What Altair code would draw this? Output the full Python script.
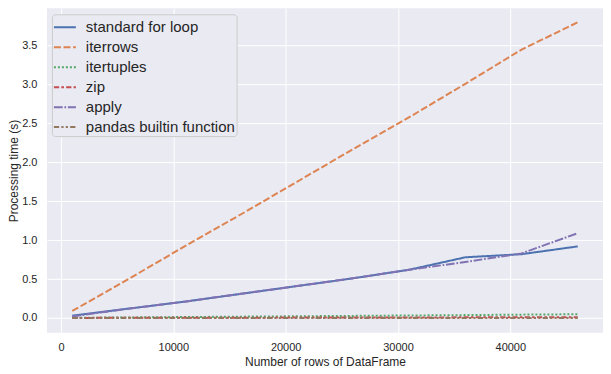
import altair as alt
import pandas as pd

rows = [1000, 6000, 11000, 16000, 21000, 26000, 31000, 36000, 41000, 46000]
series_names = ["standard for loop", "iterrows", "itertuples", "zip", "apply",
                "pandas builtin function"]
standard_for_loop = [0.03, 0.12, 0.21, 0.31, 0.41, 0.51, 0.62, 0.78, 0.82, 0.92]
iterrows = [0.09, 0.50, 0.92, 1.33, 1.75, 2.17, 2.58, 3.01, 3.45, 3.80]
itertuples = [0.002, 0.007, 0.012, 0.017, 0.022, 0.027, 0.032, 0.037, 0.043, 0.048]
zip_times = [0.001, 0.002, 0.003, 0.004, 0.005, 0.006, 0.007, 0.008, 0.009, 0.010]
apply_times = [0.02, 0.12, 0.21, 0.31, 0.41, 0.51, 0.62, 0.72, 0.83, 1.09]
builtin = [0.001, 0.001, 0.001, 0.001, 0.001, 0.001, 0.001, 0.001, 0.001, 0.001]

x_ticks = [0, 10000, 20000, 30000, 40000]
y_ticks = [0.0, 0.5, 1.0, 1.5, 2.0, 2.5, 3.0, 3.5]

colors = ["#4c72b0", "#dd8452", "#55a868", "#c44e52", "#8172b3", "#937860"]
dashes = [[1, 0], [7, 2.6], [2, 2], [5.25, 2.2, 2.6, 2.2],
          [8.75, 1.75, 1.75, 1.75], [5.25, 2.2, 2.2, 2.2, 2.2, 2.2]]

all_series = [standard_for_loop, iterrows, itertuples, zip_times, apply_times, builtin]
records = []
for name, vals in zip(series_names, all_series):
    for r, v in zip(rows, vals):
        records.append({"rows": r, "time": v, "method": name})
df = pd.DataFrame(records)

FONT = "Liberation Sans"
TXT = "#262626"

legend = alt.Legend(title=None, orient="none", legendX=5, legendY=6)

chart = alt.Chart(df).mark_line(strokeWidth=2, clip=True).encode(
    x=alt.X("rows:Q",
            scale=alt.Scale(domain=[-1250, 48250], nice=False, zero=False),
            axis=alt.Axis(values=x_ticks, format="d", title="Number of rows of DataFrame",
                          labelPadding=9, titlePadding=4)),
    y=alt.Y("time:Q",
            scale=alt.Scale(domain=[-0.19, 3.98], nice=False, zero=False),
            axis=alt.Axis(values=y_ticks, format=".1f", title="Processing time (s)",
                          labelPadding=10, titlePadding=1)),
    color=alt.Color("method:N", sort=series_names,
                    scale=alt.Scale(domain=series_names, range=colors), legend=legend),
    strokeDash=alt.StrokeDash("method:N", sort=series_names,
                              scale=alt.Scale(domain=series_names, range=dashes), legend=legend),
).properties(
    width=557, height=325,
    autosize=alt.AutoSizeParams(type="none"),
    padding={"left": 39, "top": 0, "right": 0, "bottom": 45},
).configure_view(
    fill="#eaeaf2", strokeWidth=0
).configure_axis(
    grid=True, gridColor="#ffffff", gridWidth=1, gridOpacity=1,
    domain=False, ticks=False,
    labelFont=FONT, labelFontSize=11, labelColor=TXT,
    titleFont=FONT, titleFontSize=12, titleColor=TXT, titleFontWeight="normal",
).configure_legend(
    labelFont=FONT, labelFontSize=15, labelColor=TXT, labelLimit=400,
    symbolType="stroke", symbolSize=484, symbolStrokeWidth=2,
    fillColor="#eaeaf2", strokeColor="#cccccc", cornerRadius=3,
    padding=1, rowPadding=-1, labelOffset=9,
)

chart.save("out.html", embed_options={"renderer": "svg", "actions": False})
